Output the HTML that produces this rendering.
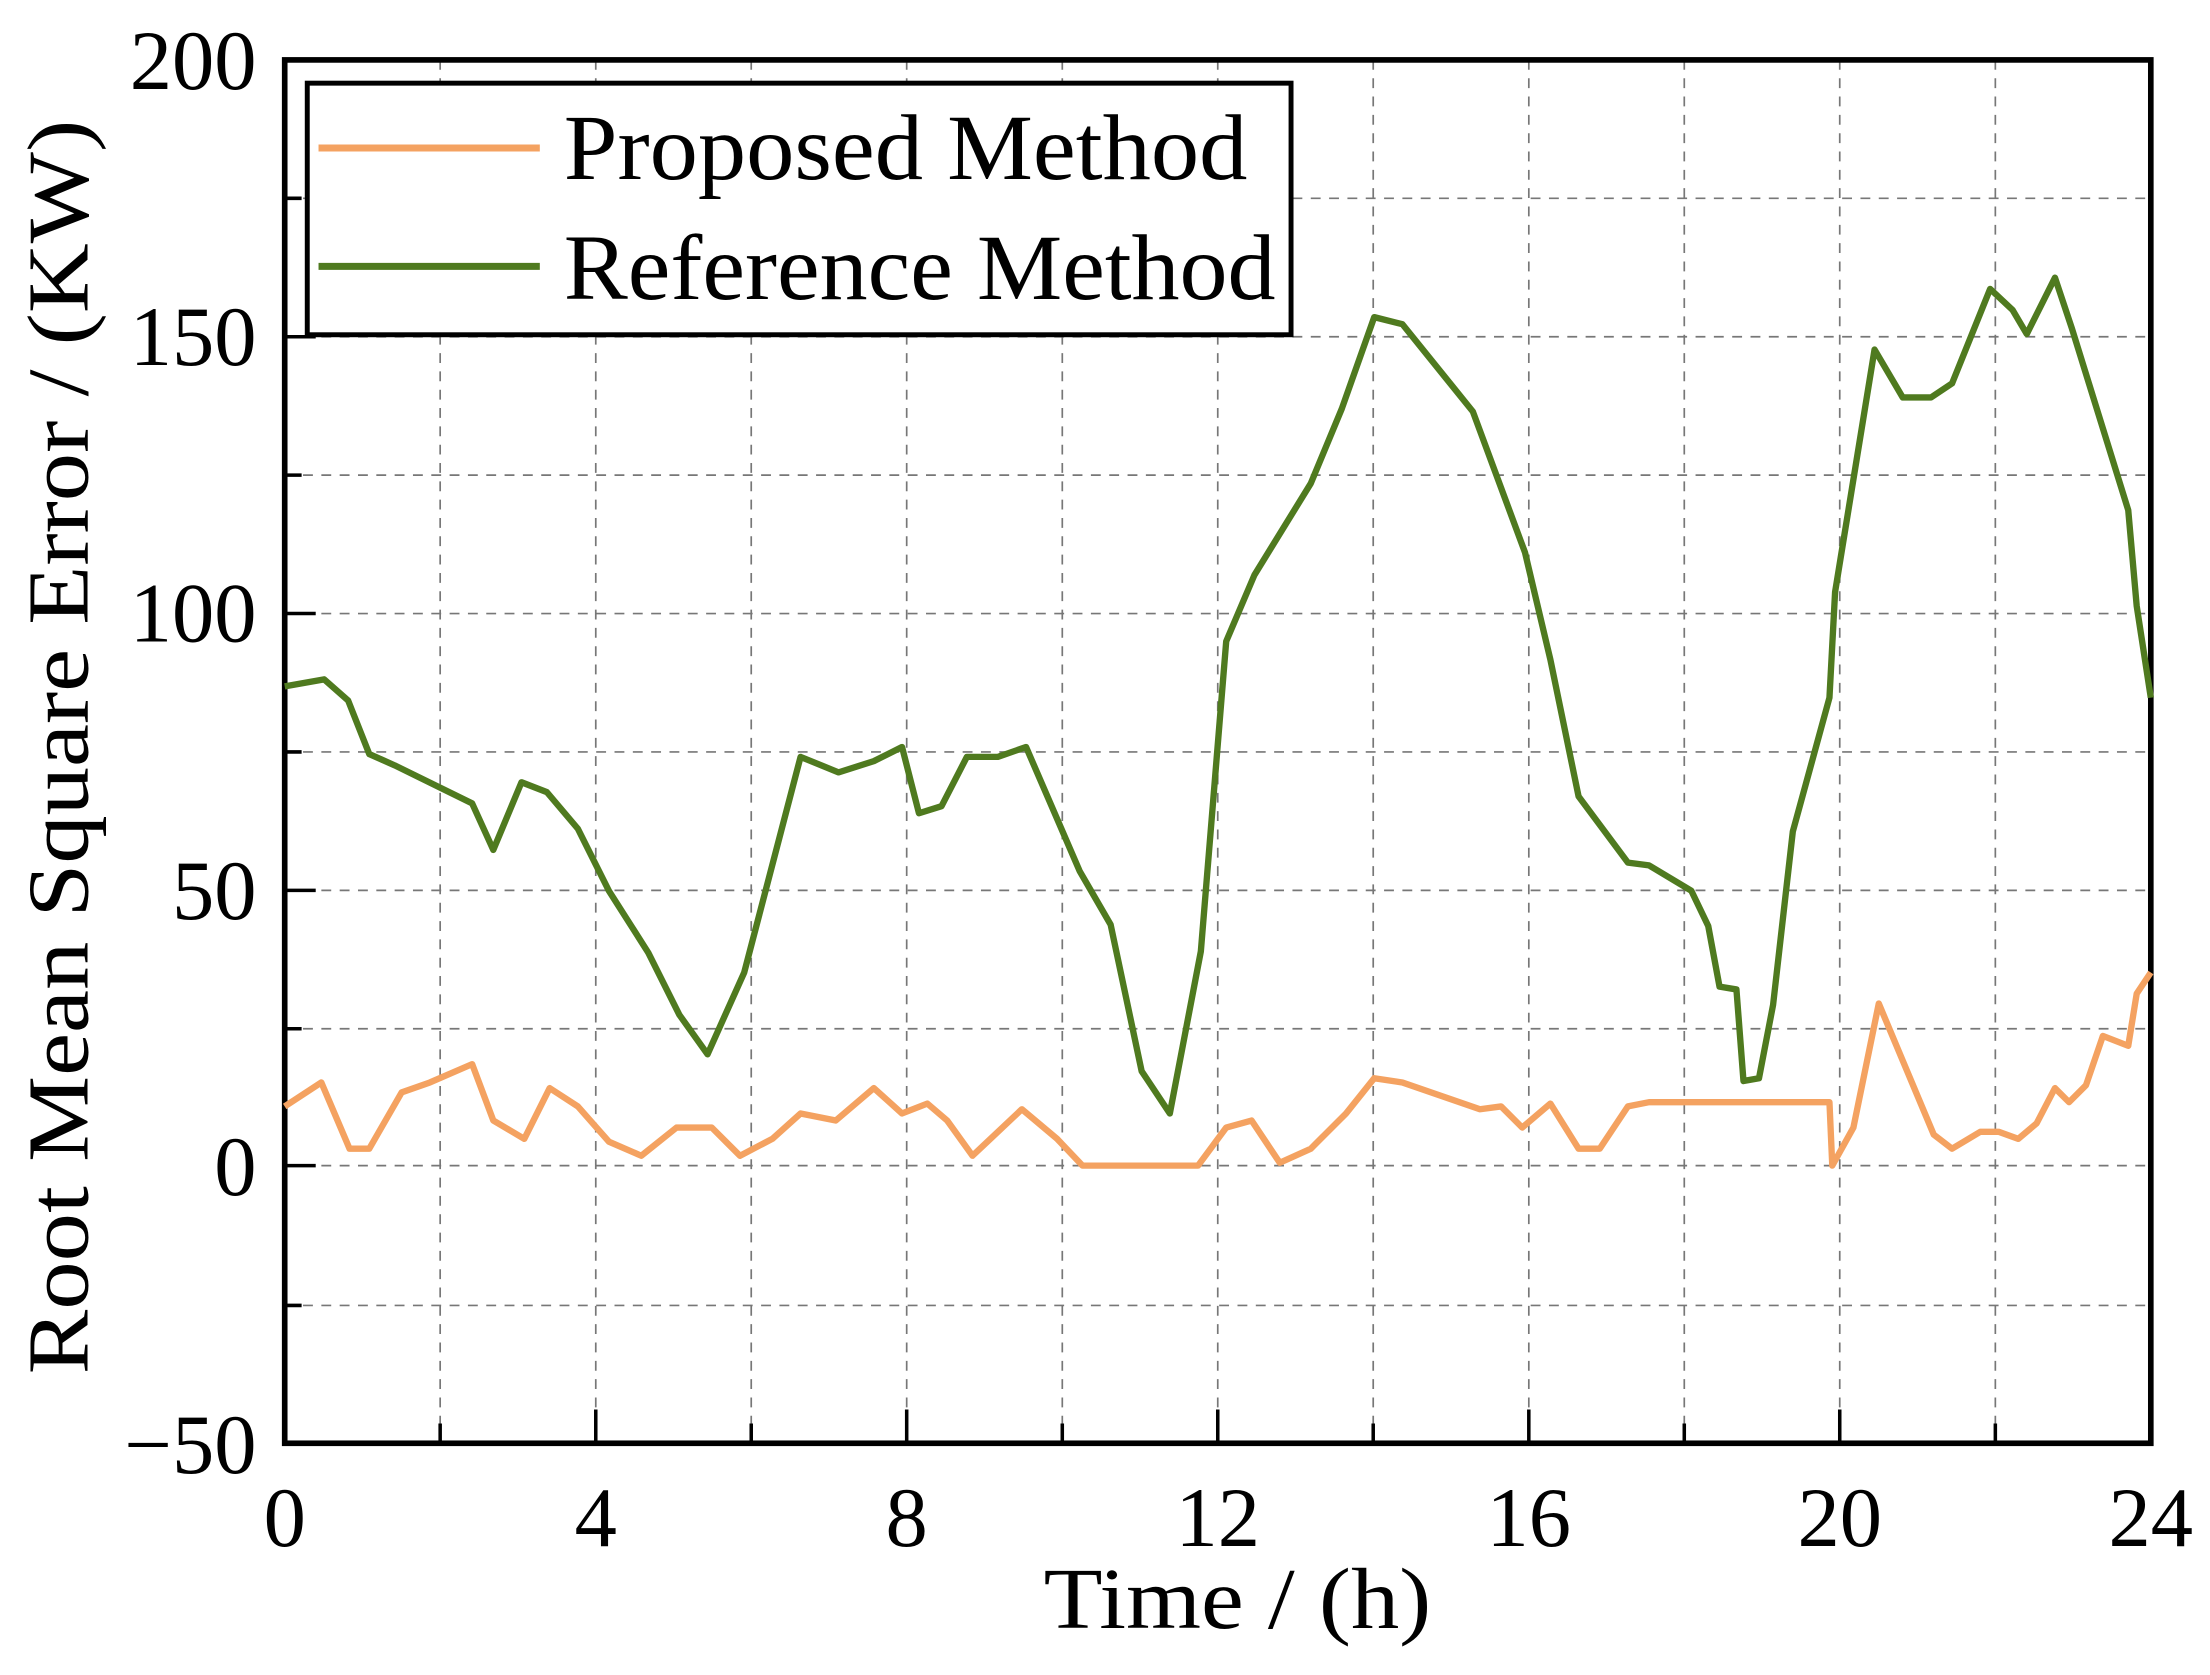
<!DOCTYPE html>
<html><head><meta charset="utf-8"><style>html,body{margin:0;padding:0;background:#fff}svg{display:block}</style></head>
<body>
<svg width="2210" height="1675" viewBox="0 0 1568 1188.4" xmlns="http://www.w3.org/2000/svg" font-family="Liberation Serif, serif">
<rect width="1568" height="1189" fill="#fff"/>
<g stroke="#777" stroke-width="1.2" stroke-dasharray="7,6" fill="none">
<path d="M312.3 42.5V1024M422.7 42.5V1024M533 42.5V1024M643.3 42.5V1024M753.7 42.5V1024M864 42.5V1024M974.3 42.5V1024M1084.7 42.5V1024M1195 42.5V1024M1305.3 42.5V1024M1415.7 42.5V1024"/>
<path d="M202 140.7H1526M202 238.9H1526M202 337.1H1526M202 435.3H1526M202 533.5H1526M202 631.7H1526M202 729.9H1526M202 827H1526M202 926.2H1526"/>
</g>
<g stroke="#000" stroke-width="2.5">
<path d="M312.3 1024v-14M533 1024v-14M753.7 1024v-14M974.3 1024v-14M1195 1024v-14M1415.7 1024v-14"/>
<path d="M422.7 1024v-24M643.3 1024v-24M864 1024v-24M1084.7 1024v-24M1305.3 1024v-24"/>
<path d="M202 140.7h12M202 337.1h12M202 533.5h12M202 729.9h12M202 926.2h12"/>
<path d="M202 238.9h22M202 435.3h22M202 631.7h22M202 827h22"/>
</g>
<rect x="202" y="42.5" width="1324" height="981.5" fill="none" stroke="#000" stroke-width="4"/>
<polyline fill="none" stroke="#f4a261" stroke-width="4.5" stroke-linejoin="round" points="202,785 228,768 248,815 262,815 285,775 305,768 335,755 350,795 372,808 390,772 410,785 432,810 455,820 480,800 505,800 525,820 548,808 568,790 593,795 620,772 640,790 658,783 672,795 690,820 725,787 750,808 768,827 850,827 870,800 888,795 908,825 930,815 955,790 975,765 995,768 1050,787 1065,785 1080,800 1100,783 1120,815 1135,815 1155,785 1170,782 1298,782 1300,827 1315,800 1333,712 1372,805 1385,815 1405,803 1418,803 1432,808 1445,797 1458,772 1468,782 1480,770 1492,735 1510,742 1516,705 1526,690"/>
<polyline fill="none" stroke="#4f7a1f" stroke-width="4.5" stroke-linejoin="round" points="202,487 230,482 247,497 262,535 280,543 335,570 350,603 370,555 388,562 410,588 432,632 460,676 482,720 502,748 528,690 568,537 595,548 620,540 640,530 652,577 668,572 686,537 708,537 728,530 766,618 788,656 810,760 830,790 852,675 870,455 890,408 930,343 952,290 975,225 995,230 1045,292 1082,392 1100,468 1120,565 1155,612 1170,614 1200,632 1212,657 1220,700 1232,702 1237,767 1248,765 1258,713 1272,590 1298,495 1302,420 1330,248 1350,282 1370,282 1385,272 1412,205 1428,220 1438,237 1458,197 1470,233 1510,362 1516,430 1526,495"/>
<rect x="218" y="59" width="698" height="178.5" fill="#fff" stroke="#000" stroke-width="3.5"/>
<line x1="226" y1="105" x2="383" y2="105" stroke="#f4a261" stroke-width="5"/>
<line x1="226" y1="189" x2="383" y2="189" stroke="#4f7a1f" stroke-width="5"/>
<text x="400" y="127" font-size="66" textLength="485" lengthAdjust="spacingAndGlyphs">Proposed Method</text>
<text x="400" y="212" font-size="66" textLength="505" lengthAdjust="spacingAndGlyphs">Reference Method</text>
<g font-size="60" text-anchor="end">
<text x="182" y="63">200</text><text x="182" y="259">150</text><text x="182" y="455">100</text>
<text x="182" y="652">50</text><text x="182" y="848">0</text><text x="182" y="1045">−50</text>
</g>
<g font-size="60" text-anchor="middle">
<text x="202" y="1097">0</text><text x="422.7" y="1097">4</text><text x="643.3" y="1097">8</text>
<text x="864" y="1097">12</text><text x="1084.7" y="1097">16</text><text x="1305.3" y="1097">20</text><text x="1526" y="1097">24</text>
</g>
<text x="878" y="1155" font-size="62" text-anchor="middle" textLength="275" lengthAdjust="spacingAndGlyphs">Time / (h)</text>
<text transform="translate(62,530) rotate(-90)" font-size="62" text-anchor="middle" textLength="890" lengthAdjust="spacingAndGlyphs">Root Mean Square Error / (KW)</text>
</svg>
</body></html>
